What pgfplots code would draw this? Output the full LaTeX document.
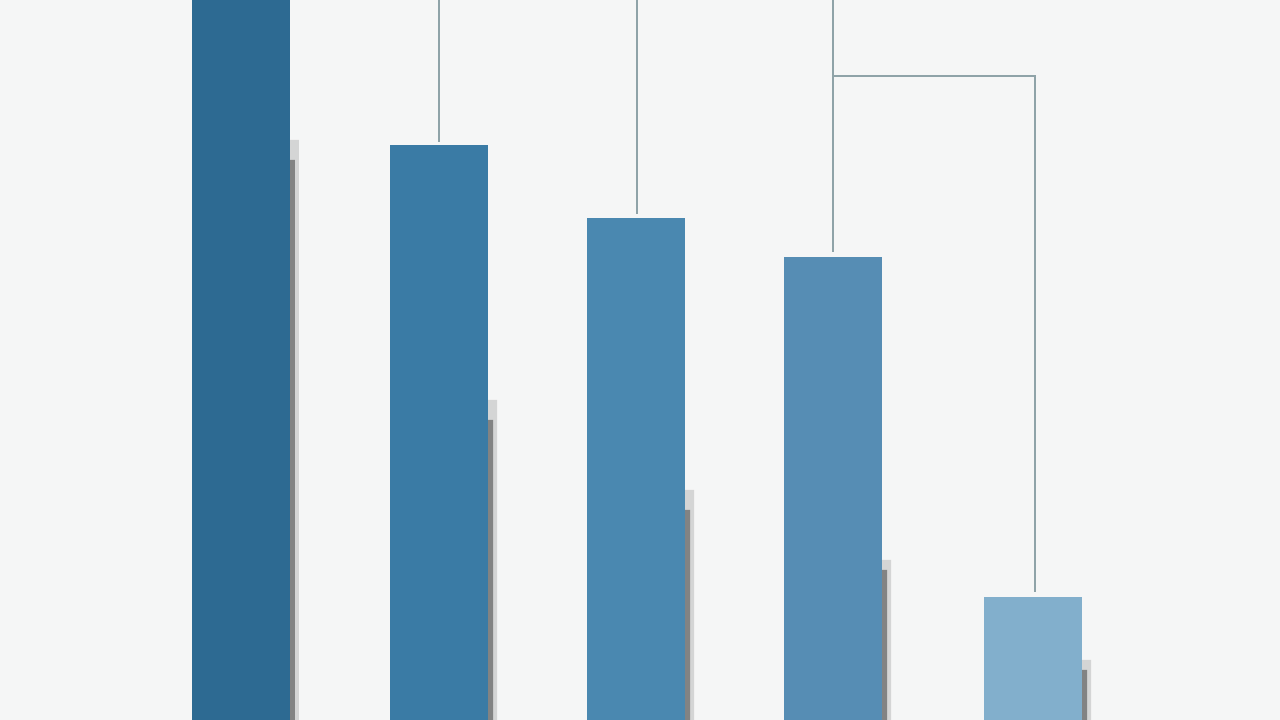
\documentclass[border=0pt]{standalone}
\usepackage{pgfplots}
\pgfplotsset{compat=1.18}
\definecolor{bgc}{HTML}{F5F6F6}
\definecolor{cA}{HTML}{2D6A92}
\definecolor{cB}{HTML}{3A7BA5}
\definecolor{cC}{HTML}{4A88B0}
\definecolor{cD}{HTML}{568DB4}
\definecolor{cE}{HTML}{82AFCC}
\definecolor{lnc}{HTML}{8FA3A8}
\begin{document}
\begin{tikzpicture}
\fill[bgc] (0,0) rectangle (1280pt,720pt);
\begin{axis}[
  at={(0,0)}, anchor=south west,
  scale only axis, width=1280pt, height=720pt,
  xmin=-1.217, xmax=5.247, ymin=0, ymax=720,
  axis lines=none, ticks=none,
  clip=true,
]
% shadows (soft outer, darker inner)
\addplot[ybar, bar width=9pt, bar shift=0pt, draw=none, fill=black!40, opacity=0.35]
  coordinates {(0.270,580) (1.270,320) (2.265,230) (3.260,160) (4.270,60)};
\addplot[ybar, bar width=5pt, bar shift=0pt, draw=none, fill=black!75, opacity=0.55]
  coordinates {(0.260,560) (1.260,300) (2.255,210) (3.250,150) (4.260,50)};
% bars
\addplot[ybar, bar width=0.495, bar shift=0pt, draw=none, fill=cA] coordinates {(0,760)};
\addplot[ybar, bar width=0.495, bar shift=0pt, draw=none, fill=cB] coordinates {(1,575)};
\addplot[ybar, bar width=0.495, bar shift=0pt, draw=none, fill=cC] coordinates {(1.995,502)};
\addplot[ybar, bar width=0.495, bar shift=0pt, draw=none, fill=cD] coordinates {(2.99,463)};
\addplot[ybar, bar width=0.495, bar shift=0pt, draw=none, fill=cE] coordinates {(4,123)};
% connectors
\addplot[lnc, line width=2pt, mark=none] coordinates {(1,578) (1,760)};
\addplot[lnc, line width=2pt, mark=none] coordinates {(2,506) (2,760)};
\addplot[lnc, line width=2pt, mark=none] coordinates {(2.99,468) (2.99,760)};
\addplot[lnc, line width=2pt, mark=none] coordinates {(2.99,644) (4.01,644) (4.01,128)};
\end{axis}
\end{tikzpicture}
\end{document}
